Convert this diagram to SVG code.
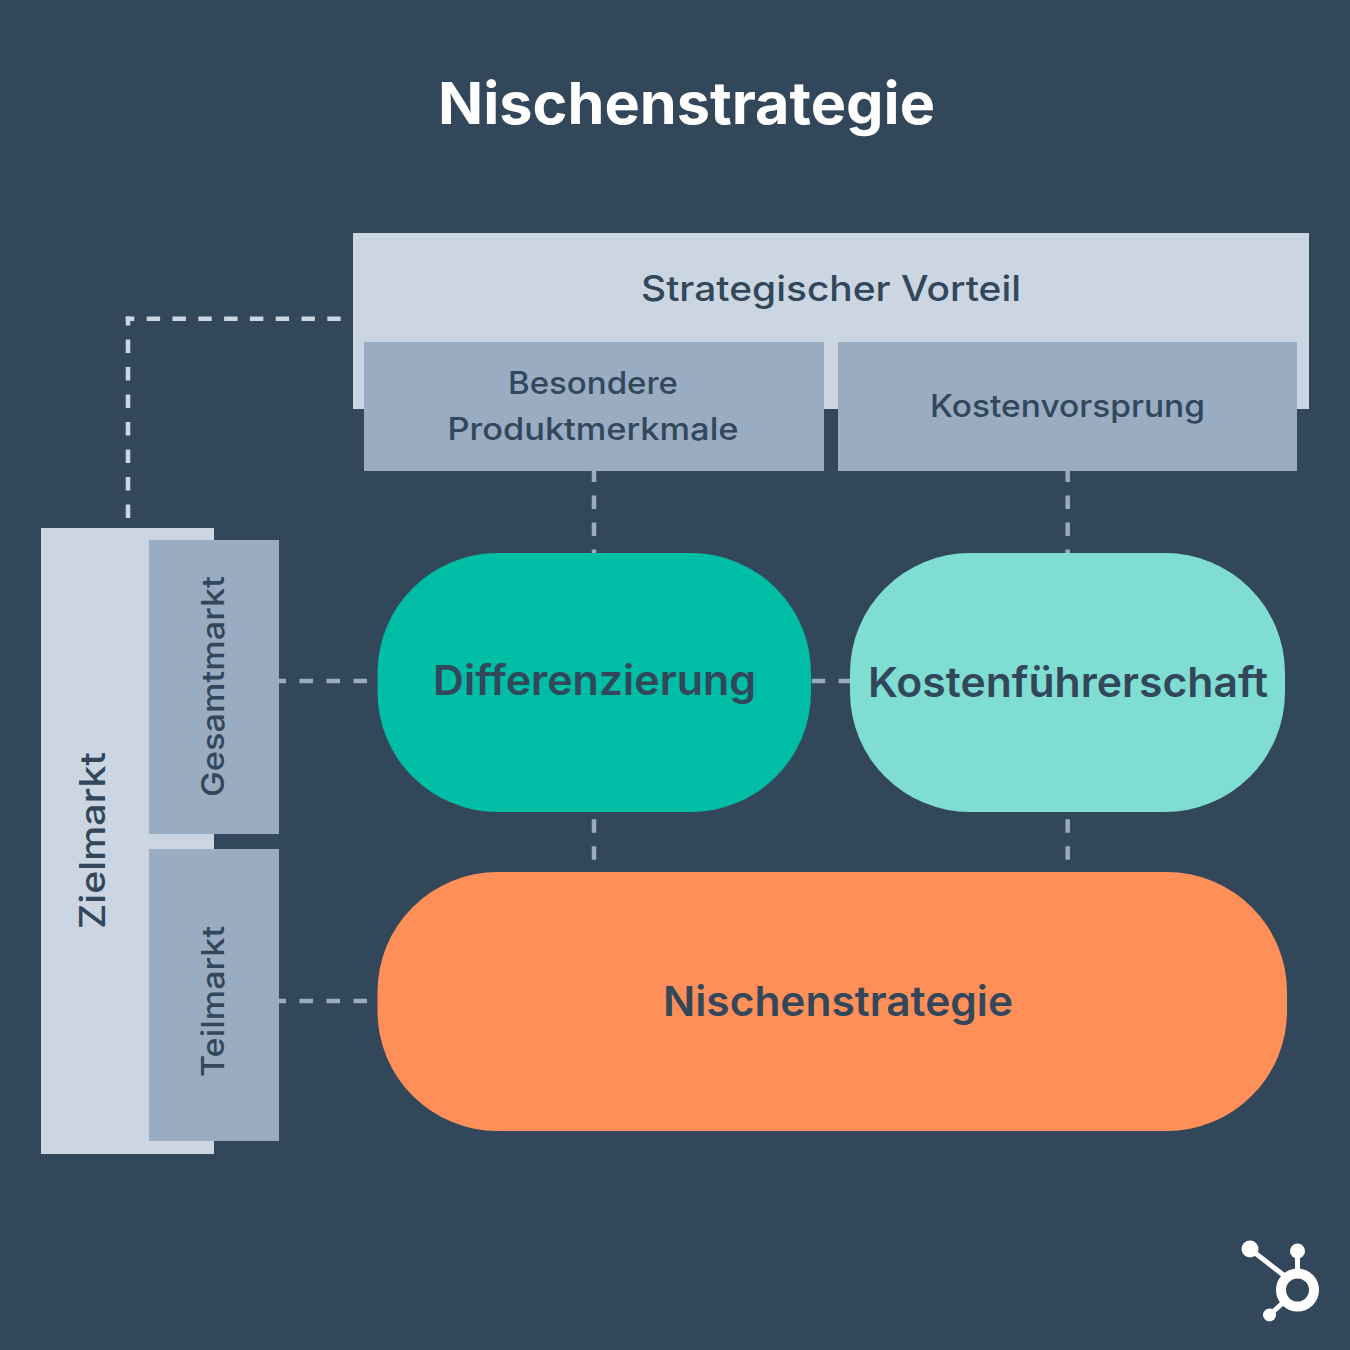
<svg xmlns="http://www.w3.org/2000/svg" width="1350" height="1350" viewBox="0 0 1350 1350">
<style>
.t{font-family:Inter,"Open Sans",sans-serif;fill:#33475b;text-anchor:middle;font-weight:500}
.b{font-weight:600}
.d{fill:none;stroke-width:4.5}
.g{stroke:#99acc2;stroke-dasharray:13.500 13.500}
</style>
<rect width="1350" height="1350" fill="#33475b"/>
<text x="686.500" y="124" font-family="Inter,sans-serif" font-weight="700" font-size="58" fill="#fff" text-anchor="middle" textLength="497" lengthAdjust="spacingAndGlyphs">Nischenstrategie</text>
<g id="connectors">
<path class="d" stroke="#cbd6e2" stroke-dasharray="13.400 12.400" d="M340.700 318.700H125.800"/>
<path class="d" stroke="#cbd6e2" stroke-dasharray="13.600 13.900" d="M128 518V316.500"/>
<path class="d g" stroke-dashoffset="2.500" d="M594 471V553M1067.700 471V553"/>
<path class="d g" stroke-dashoffset="6.500" d="M279 681H367M279 1001H367"/>
<path class="d g" d="M811.700 681H850M594 819.300V860M1067.700 819.300V860"/>
</g>
<g id="vorteil"><rect x="353" y="233" width="956" height="176" fill="#cbd6e2"/><text class="t" x="831" y="301" font-size="35" textLength="380" lengthAdjust="spacingAndGlyphs">Strategischer Vorteil</text></g>
<g id="produkt"><rect x="364" y="342" width="460" height="129" fill="#99acc2"/><text class="t" x="593" y="394" font-size="31" textLength="170" lengthAdjust="spacingAndGlyphs">Besondere</text><text class="t" x="593" y="440" font-size="31" textLength="291" lengthAdjust="spacingAndGlyphs">Produktmerkmale</text></g>
<g id="kosten"><rect x="838" y="342" width="459" height="129" fill="#99acc2"/><text class="t" x="1067.500" y="417" font-size="31" textLength="275" lengthAdjust="spacingAndGlyphs">Kostenvorsprung</text></g>
<g id="ziel"><rect x="41" y="528" width="173" height="626" fill="#cbd6e2"/><text class="t" transform="translate(105 840.500) rotate(-90)" font-size="35" textLength="177" lengthAdjust="spacingAndGlyphs">Zielmarkt</text></g>
<g id="gesamt"><rect x="149" y="540" width="130" height="294" fill="#99acc2"/><text class="t" transform="translate(224 686.500) rotate(-90)" font-size="31" textLength="221" lengthAdjust="spacingAndGlyphs">Gesamtmarkt</text></g>
<g id="teil"><rect x="149" y="849" width="130" height="292" fill="#99acc2"/><text class="t" transform="translate(224 1001.500) rotate(-90)" font-size="31" textLength="151" lengthAdjust="spacingAndGlyphs">Teilmarkt</text></g>
<g id="diff"><rect x="377.500" y="553" width="433.500" height="259" rx="120" fill="#00bda5"/><text class="t b" x="594.500" y="695" font-size="41" textLength="323" lengthAdjust="spacingAndGlyphs">Differenzierung</text></g>
<g id="fuehr"><rect x="850" y="553" width="435" height="259" rx="120" fill="#7fded1"/><text class="t b" x="1068" y="697" font-size="41" textLength="400" lengthAdjust="spacingAndGlyphs">Kostenführerschaft</text></g>
<g id="nische"><rect x="377.500" y="872" width="909.500" height="259" rx="120" fill="#ff8f59"/><text class="t b" x="838" y="1016" font-size="41" textLength="350" lengthAdjust="spacingAndGlyphs">Nischenstrategie</text></g>
<g id="logo" fill="#fff" stroke="#fff">
<circle cx="1297.500" cy="1290" r="16.500" fill="none" stroke-width="10"/>
<circle cx="1250" cy="1249" r="8.500" stroke="none"/><circle cx="1297.500" cy="1251" r="7.500" stroke="none"/><circle cx="1269.500" cy="1315" r="6.500" stroke="none"/>
<path d="M1250 1249L1286 1277M1297.500 1251V1272M1269.500 1315L1286 1300" stroke-width="5"/>
</g>
</svg>
